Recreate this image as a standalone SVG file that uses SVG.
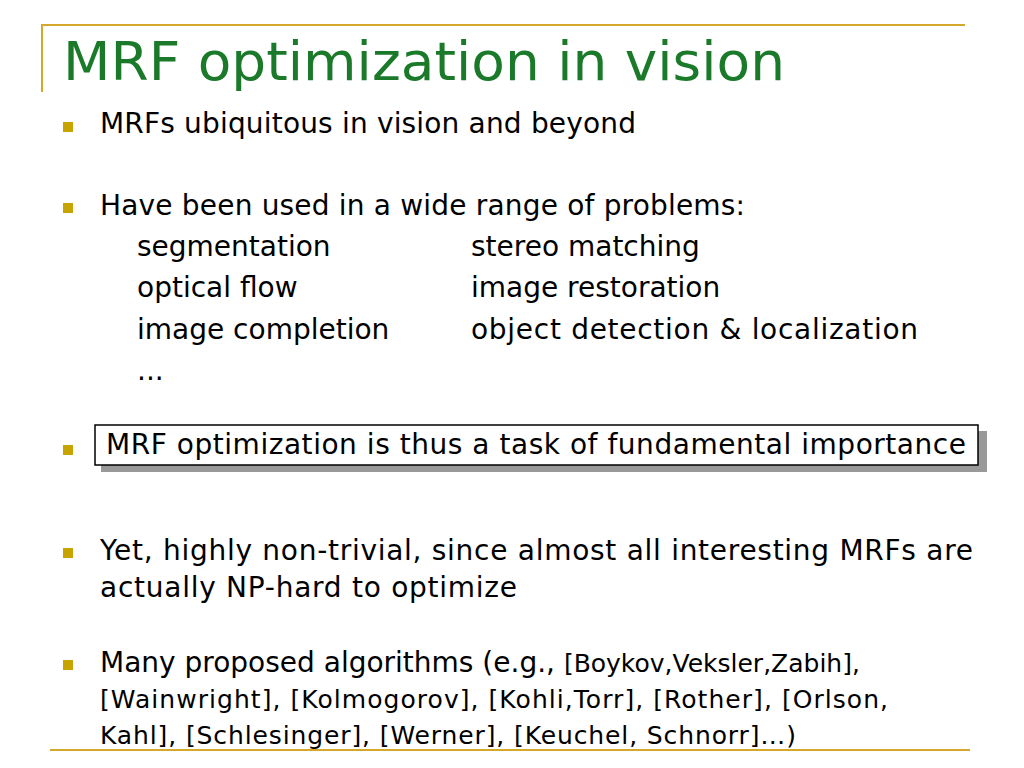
<svg xmlns="http://www.w3.org/2000/svg" width="1024" height="768" viewBox="0 0 1024 768">
<style>
.t{font-family:"DejaVu Sans","Liberation Sans",sans-serif;font-size:28px;fill:#000}
.s{font-size:25px}
.b{fill:#c8a400}
.g{stroke:#d4a82a;stroke-width:2;fill:none}
</style>
<rect width="1024" height="768" fill="#fff"/>
<path class="g" d="M42,92 V25 H965 M50,750 H970"/>
<text x="63" y="80" font-family="DejaVu Sans,sans-serif" font-size="54" fill="#1a7a2a" textLength="722" lengthAdjust="spacingAndGlyphs">MRF optimization in vision</text>
<g id="bullets">
<rect class="b" x="63" y="122" width="10" height="10"/>
<rect class="b" x="63" y="203" width="10" height="10"/>
<rect class="b" x="63" y="445" width="10" height="10"/>
<rect class="b" x="63" y="548" width="10" height="10"/>
<rect class="b" x="63" y="660" width="10" height="10"/>
</g>
<text class="t" x="100" y="133" textLength="536">MRFs ubiquitous in vision and beyond</text>
<text class="t" x="100" y="215" textLength="645">Have been used in a wide range of problems:</text>
<text class="t" x="137" y="256">segmentation</text>
<text class="t" x="471" y="256">stereo matching</text>
<text class="t" x="137" y="297">optical flow</text>
<text class="t" x="471" y="297">image restoration</text>
<text class="t" x="137" y="339">image completion</text>
<text class="t" x="471" y="339" textLength="447">object detection &amp; localization</text>
<text class="t" x="137" y="380">...</text>
<g id="box">
<rect x="101" y="431" width="886" height="41" fill="#999"/>
<rect x="95" y="425" width="883" height="40" fill="#fff" stroke="#000" stroke-width="1.5"/>
<text class="t" x="106" y="454" textLength="860">MRF optimization is thus a task of fundamental importance</text>
</g>
<text class="t" x="100" y="560" textLength="873">Yet, highly non-trivial, since almost all interesting MRFs are</text>
<text class="t" x="100" y="597" textLength="417">actually NP-hard to optimize</text>
<text class="t" x="100" y="672">Many proposed algorithms (e.g., <tspan class="s">[Boykov,Veksler,Zabih],</tspan></text>
<text class="t s" x="100" y="708" textLength="788">[Wainwright], [Kolmogorov], [Kohli,Torr], [Rother], [Orlson,</text>
<text class="t s" x="100" y="744" textLength="696">Kahl], [Schlesinger], [Werner], [Keuchel, Schnorr]…)</text>
</svg>
